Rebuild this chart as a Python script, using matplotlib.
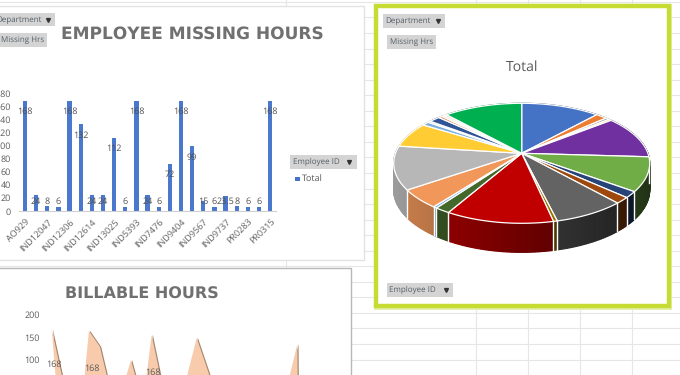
import matplotlib
matplotlib.use('Agg')
import matplotlib.pyplot as plt
import numpy as np
from matplotlib.patches import Rectangle

plt.rcParams['font.family'] = ['Open Sans', 'DejaVu Sans']
plt.rcParams['text.hinting'] = 'no_hinting'
plt.rcParams['text.hinting_factor'] = 1

W, H = 680, 375

# data
employees = ['AO929', 'IND12047', 'IND12306', 'IND12614', 'IND13025', 'IND5393',
             'IND7476', 'IND9404', 'IND9567', 'IND9737', 'PR0283', 'PR0315']
missing_hours = [168, 24, 8, 6, 168, 132, 24, 24, 112, 6, 168, 24,
                 6, 72, 168, 99, 15, 6, 23.5, 8, 6, 6, 168]
missing_ticks = [0, 20, 40, 60, 80, 100, 120, 140, 160, 180]
pie_colors = ['#4472c4', '#ed7d31', '#a5a5a5', '#ffc000', '#7030a0', '#70ad47',
              '#264478', '#9e480e', '#636363', '#997300', '#c00000', '#43682b',
              '#7cafdd', '#f1975a', '#b7b7b7', '#ffcd33', '#7cafdd', '#a9d18e',
              '#2f5597', '#de8b5b', '#c9c9c9', '#e2c08a', '#00b050']
billable_pos = [0.5, 0, 1.33, 2.47, 3.04, 3.94, 5.04, 5.41, 6.47, 7.45, 8.16, 9.33,
                10.47, 11.84, 13.66, 18.88, 20.05, 20.1]
billable_hours = [0, 168, 0, 0, 164, 128, 0, 0, 98, 0, 155, 0, 0, 148, 0, 0, 134, 0]
billable_ticks = [0, 50, 100, 150, 200]
billable_label_pos = [0.19, 3.3, 8.27]
billable_label_y = [87, 78, 69]
billable_labels = ['168', '168', '168']

TEXT = '#595959'


def px_axes(left, right, top, bottom):
    a = fig.add_axes([left / W, 1 - bottom / H, (right - left) / W, (bottom - top) / H])
    a.patch.set_alpha(0)
    for s in a.spines.values():
        s.set_visible(False)
    return a


def button(x0, x1, y0, y1, label, tx, arrow=None):
    ax.add_patch(Rectangle((x0, y0), x1 - x0, y1 - y0, fc='#d4d4d4', ec='none', zorder=6))
    ax.text(tx, (y0 + y1) / 2, label, fontsize=5.8, color='#555f66', va='center', zorder=7)
    if arrow:
        ax.plot([arrow], [(y0 + y1) / 2], marker='v', ms=2.8, color='#333333', zorder=7)


fig = plt.figure(figsize=(W / 100, H / 100), dpi=100, facecolor='white')

# sheet background, in pixels
ax = fig.add_axes([0, 0, 1, 1])
ax.set_xlim(0, W)
ax.set_ylim(H, 0)
ax.axis('off')
for y in np.arange(1.9, H, 15.55):
    ax.plot([0, W], [y, y], color='#e6e6e6', lw=0.8, zorder=1)
for x in [286, 476, 527.5, 579.5, 631.5]:
    ax.plot([x, x], [0, H], color='#e6e6e6', lw=0.8, zorder=1)

# chart panels
ax.add_patch(Rectangle((-5, 6), 369, 254, fc='white', ec='#e2e2e2', lw=1, zorder=2))
ax.add_patch(Rectangle((-5, 268), 356, 120, fc='white', ec='#b8b8b8', lw=1, zorder=2))
ax.add_patch(Rectangle((373.5, 3.5), 298, 306, fc='#e6efae', ec='none', zorder=2))
ax.add_patch(Rectangle((376, 5.5), 292.5, 300.5, fc='white', ec='#c6dc32', lw=3.2, zorder=3))

# missing hours
ax.text(192, 34, 'EMPLOYEE MISSING HOURS', fontsize=12, fontweight='bold',
        family='DejaVu Sans', color='#707070', ha='center', va='center', zorder=6)
button(-5, 55, 13, 26, 'Department', -4, 48)
button(-5, 47, 33, 47, 'Missing Hrs', 1)
button(290, 357, 155, 169, 'Employee ID', 293, 349)
ax.add_patch(Rectangle((295, 176.5), 4.5, 4.5, fc='#4472c4', ec='none', zorder=6))
ax.text(302, 179, 'Total', fontsize=6.6, color=TEXT, va='center', zorder=6)

ax_bar = px_axes(19.4, 275.7, 93, 211)
ax_bar.set_zorder(5)
pos = np.arange(len(missing_hours))
ax_bar.bar(pos, missing_hours, width=0.38, color='#4a78cc')
ax_bar.set_xlim(-0.5, 22.5)
ax_bar.set_ylim(0, 180)
ax_bar.set_yticks(missing_ticks)
ax_bar.tick_params(axis='y', length=0, pad=6, labelsize=6.6, labelcolor=TEXT)
ax_bar.set_xticks(pos[::2])
ax_bar.set_xticklabels(employees, rotation=45, ha='right', rotation_mode='anchor')
ax_bar.tick_params(axis='x', length=0, pad=4.5, labelsize=6.8, labelcolor=TEXT)
ax_bar.spines['bottom'].set_visible(True)
ax_bar.spines['bottom'].set_color('#d0d0d0')
for p, v in zip(pos, missing_hours):
    ax_bar.text(p, max(v - 16.8, 14.6), f'{v:g}', fontsize=6.6, color='#505050',
                ha='center', va='center')

# 3d pie, projected from the values
ax.text(522, 67.7, 'Total', fontsize=10, color=TEXT, ha='center', va='center', zorder=6)
button(383, 444.5, 14, 28, 'Department', 385.5, 438)
button(387, 436, 35, 49, 'Missing Hrs', 389.5)
button(387, 453, 283, 297, 'Employee ID', 389, 446)

cx, cy = 521.7, 153.3
ang = np.concatenate([[0], np.cumsum(missing_hours)]) / sum(missing_hours) * 2 * np.pi


def project(t):
    dx, dy = np.sin(t), np.cos(t)
    k = 1 + dy / 6
    return cx + 126.2 * dx / k, cy - 58.33 * dy / k, 26 - 3 * dy


# side wall first, the top faces cover whatever is behind
for i, col in enumerate(pie_colors):
    t = np.linspace(ang[i], ang[i + 1], max(2, int((ang[i + 1] - ang[i]) * 60)))
    px, py, d = project(t)
    rgb = np.array(matplotlib.colors.to_rgb(col))
    for j in range(len(t) - 1):
        shade = 0.85 - 0.55 * (px[j] - cx + 128) / 256
        c = rgb * shade
        ax.fill([px[j], px[j + 1], px[j + 1], px[j]],
                [py[j], py[j + 1], py[j + 1] + d[j + 1], py[j] + d[j]],
                fc=c, ec=c, lw=0.9, zorder=4)
    if py[0] > cy - 8:
        ax.plot([px[0], px[0]], [py[0], py[0] + d[0]], color='white', lw=1, zorder=4.5)

for i, col in enumerate(pie_colors):
    t = np.linspace(ang[i], ang[i + 1], 40)
    px, py, d = project(t)
    ax.fill(np.r_[cx, px], np.r_[cy, py], fc=col, ec='white', lw=0.9,
            joinstyle='round', zorder=5)

# billable hours
ax.text(141.5, 294, 'BILLABLE HOURS', fontsize=11.6, fontweight='bold',
        family='DejaVu Sans', color='#707070', ha='center', va='center', zorder=6)
ax_area = px_axes(40, 300, 300, 403.6)
ax_area.set_zorder(5)
ax_area.set_xlim(-0.955, 20.27)
ax_area.set_ylim(0, 233.7)
ax_area.fill(np.array(billable_pos) + 0.1, billable_hours, color='#a5866f', lw=0)
ax_area.fill(billable_pos, billable_hours, color='#f8cbad', lw=0)
ax_area.set_xticks([])
ax_area.set_yticks(billable_ticks)
ax_area.tick_params(axis='y', length=0, pad=0, labelsize=6.6, labelcolor=TEXT)
for p, y, s in zip(billable_label_pos, billable_label_y, billable_labels):
    ax_area.text(p, y, s, fontsize=6.6, color=TEXT, ha='center', va='center')

fig.savefig('out.png', dpi=100)
